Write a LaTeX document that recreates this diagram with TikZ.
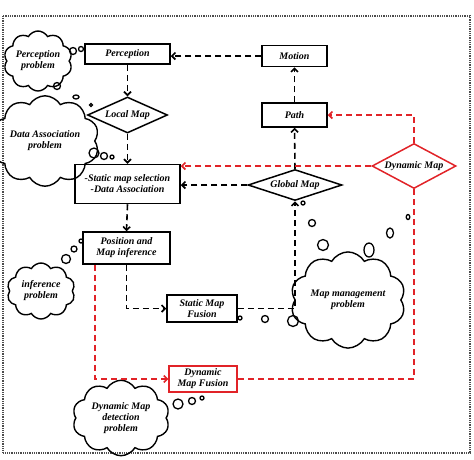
\documentclass[tikz,border=0pt]{standalone}
\usepackage{fontspec}
\setmainfont{Liberation Serif}
\usetikzlibrary{arrows.meta,shapes.geometric,shapes.symbols,calc}
\definecolor{myred}{RGB}{225,35,40}
\begin{document}
\begin{tikzpicture}[x=1pt,y=-1pt,
  txt/.style={font=\fontsize{10}{11}\selectfont\bfseries\itshape, align=center, inner sep=1pt},
  bx/.style={txt, draw, line width=1.5pt, rectangle},
  dia/.style={txt, draw, line width=1.5pt, diamond, aspect=2.3, inner sep=0pt},
  cl/.style={txt, draw, line width=1.4pt, cloud, cloud puffs=10, cloud puff arc=120, aspect=1.3, inner sep=0pt},
  conn/.style={line width=1.6pt, dash pattern=on 6pt off 4pt, -{Straight Barb[length=3.5pt,width=7pt]}},
  rconn/.style={conn, myred},
  bub/.style={draw, line width=1.3pt}
]
\useasboundingbox (0,0) rectangle (474,459);
\draw[line width=1.8pt, gray!60!black, dash pattern=on 1pt off 0.8pt] (3,16) rectangle (470,453);

% boxes
\node[bx, minimum width=85pt, minimum height=20pt] (perc) at (127.5,54) {Perception};
\node[bx, minimum width=65pt, minimum height=21pt] (motion) at (294.5,56) {Motion};
\node[dia, minimum width=80pt, minimum height=36pt] (local) at (127.5,115) {Local Map};
\node[bx, minimum width=105pt, minimum height=39pt] (assoc) at (127.5,184) {-Static map selection\\-Data Association};
\node[bx, minimum width=65pt, minimum height=24pt] (path) at (294.5,115) {Path};
\node[dia, minimum width=94pt, minimum height=31pt] (glob) at (295,185) {Global Map};
\node[dia, draw=myred, minimum width=84pt, minimum height=45pt] (dyn) at (414,166) {Dynamic Map};
\node[bx, minimum width=87pt, minimum height=32pt] (pos) at (126.5,248) {Position and\\Map inference};
\node[bx, minimum width=70pt, minimum height=27pt] (smf) at (202,308.5) {Static Map\\Fusion};
\node[bx, draw=myred, line width=1.2pt, minimum width=68pt, minimum height=26pt] (dmf) at (203,379) {Dynamic\\Map Fusion};

% clouds
\node[cl, minimum width=64pt, minimum height=60pt] (c1) at (38,61) {Perception\\problem};
\node[cl, minimum width=88pt, minimum height=66pt] (c2) at (45,141) {Data Association\\problem};
\node[cl, minimum width=68pt, minimum height=56pt] (c3) at (41,291) {inference\\problem};
\node[cl, minimum width=97pt, minimum height=64pt] (c4) at (121,418) {Dynamic Map\\detection\\problem};
\node[cl, minimum width=94pt, minimum height=72pt] (c5) at (348,300) {Map management\\problem};

% bubbles
\draw[bub] (73,51) circle (3.5) (81,49) circle (2.5);
\draw[bub] (57,86) circle (3.5);
\draw[bub] (76,97) ellipse (3 and 2) (91,105) circle (1.5);
\draw[bub] (94,153) circle (5) (104,156) circle (3.5) (112,157) circle (2);
\draw[bub] (66,259) circle (4.5) (74,249) circle (3) (81,241) circle (2);
\draw[bub] (178,404) circle (5) (192,401) circle (3.5) (202,398) circle (2);
\draw[bub] (240,318) circle (2) (265,319) circle (3.5) (293,321) circle (5.5);
\draw[bub] (303,203) circle (2) (312,223) circle (3.5) (323,245) circle (5.5);
\draw[bub] (408,217) ellipse (1.8 and 2.5) (390,233) ellipse (3.5 and 5) (369,250) ellipse (5 and 7);

% black connectors
\draw[conn] (motion.west) -- (motion.west -| perc.east);
\draw[conn] (perc.south) -- (local.north);
\draw[conn] (local.south) -- (assoc.north);
\draw[conn] (path.north) -- (motion.south);
\draw[conn] (glob.north) -- (path.south);
\draw[conn] (glob.west) -- (glob.west -| assoc.east);
\draw[conn] (assoc.south) -- (pos.north);
\draw[conn] (pos.south) |- (smf.west);
\draw[conn] (smf.east) -| (glob.south);

% red connectors
\draw[rconn] (dyn.west) -- (dyn.west -| assoc.east);
\draw[rconn] (dyn.north) |- (path.east);
\draw[rconn, -] (dyn.south) |- (dmf.east);
\coordinate (pr) at ($(pos.south west)+(13,0)$);
\draw[rconn] (pr) |- (dmf.west);
\end{tikzpicture}
\end{document}
